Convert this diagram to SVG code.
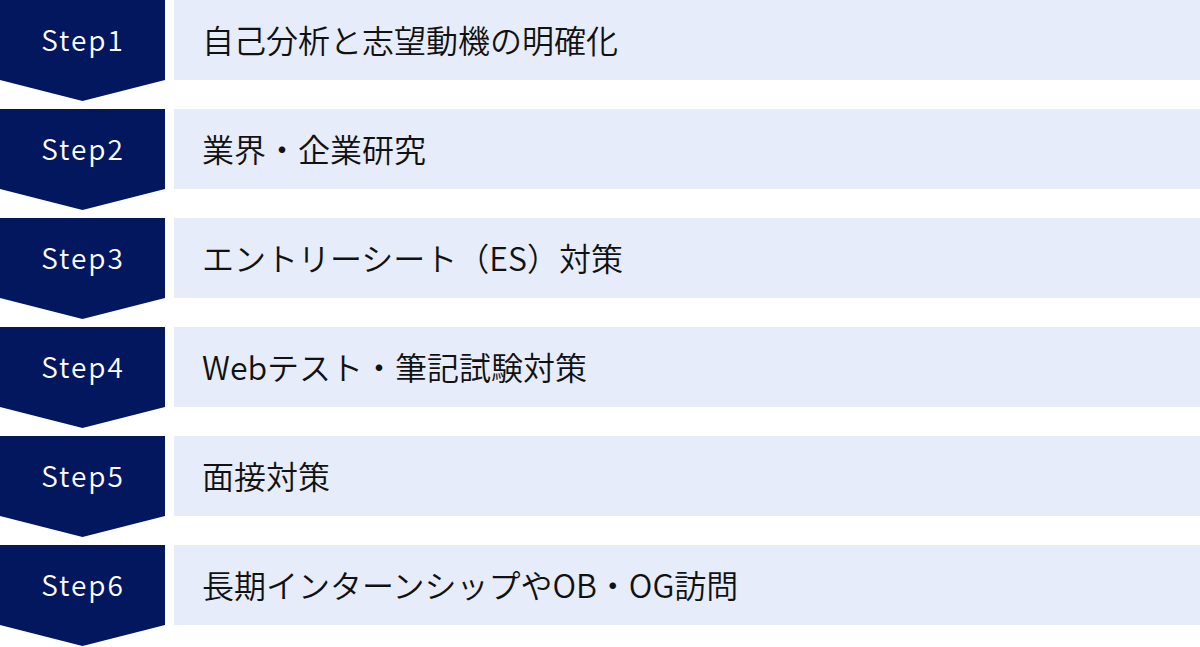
<svg xmlns="http://www.w3.org/2000/svg" width="1200" height="647" viewBox="0 0 1200 647">
<defs>
<style>
.chev{fill:#03175F}
.box{fill:#E6ECF9}
.step{font-family:"Noto Sans CJK JP","Noto Sans",sans-serif;font-size:28px;font-weight:350;fill:#FFFFFF;text-anchor:middle;letter-spacing:2px}
.lbl{font-family:"Noto Sans CJK JP","Noto Sans",sans-serif;font-size:32px;font-weight:350;fill:#111111}
</style>
<polygon id="chevShape" points="0,0 165,0 165,80 82.5,101 0,80"/>
</defs>
<rect width="1200" height="647" fill="#FFFFFF"/>
<g id="connectors"></g>
<g id="step1" transform="translate(0,0)">
<use href="#chevShape" class="chev"/>
<rect class="box" x="174" y="0" width="1026" height="80"/>
<text class="step" x="83" y="51">Step1</text>
<text class="lbl" x="202" y="53">自己分析と志望動機の明確化</text>
</g>
<g id="step2" transform="translate(0,109)">
<use href="#chevShape" class="chev"/>
<rect class="box" x="174" y="0" width="1026" height="80"/>
<text class="step" x="83" y="51">Step2</text>
<text class="lbl" x="202" y="53">業界・企業研究</text>
</g>
<g id="step3" transform="translate(0,218)">
<use href="#chevShape" class="chev"/>
<rect class="box" x="174" y="0" width="1026" height="80"/>
<text class="step" x="83" y="51">Step3</text>
<text class="lbl" x="202" y="53">エントリーシート（ES）対策</text>
</g>
<g id="step4" transform="translate(0,327)">
<use href="#chevShape" class="chev"/>
<rect class="box" x="174" y="0" width="1026" height="80"/>
<text class="step" x="83" y="51">Step4</text>
<text class="lbl" x="202" y="53">Webテスト・筆記試験対策</text>
</g>
<g id="step5" transform="translate(0,436)">
<use href="#chevShape" class="chev"/>
<rect class="box" x="174" y="0" width="1026" height="80"/>
<text class="step" x="83" y="51">Step5</text>
<text class="lbl" x="202" y="53">面接対策</text>
</g>
<g id="step6" transform="translate(0,545)">
<use href="#chevShape" class="chev"/>
<rect class="box" x="174" y="0" width="1026" height="80"/>
<text class="step" x="83" y="51">Step6</text>
<text class="lbl" x="202" y="53">長期インターンシップやOB・OG訪問</text>
</g>
</svg>
